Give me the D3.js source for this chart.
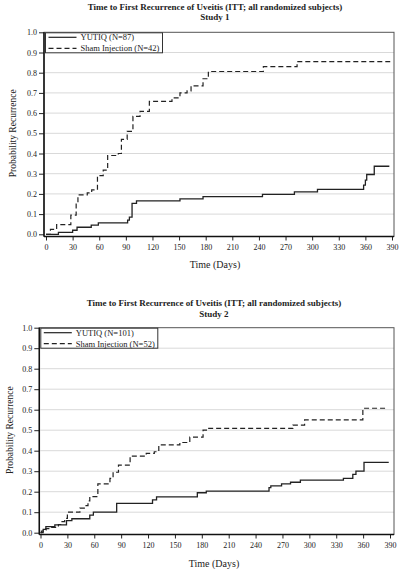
<!DOCTYPE html>
<html>
<head>
<meta charset="utf-8">
<script src="https://cdn.jsdelivr.net/npm/d3@7"></script>
<style>
  html, body { margin: 0; padding: 0; background: #fff; }
  svg { display: block; }
  text { font-family: "Liberation Serif", "Times New Roman", serif; fill: #222; }
</style>
</head>
<body>
<div id="chart"></div>
<script>
// step points [day, cumulative probability]
const study1Yutiq = [[0,0],[14,0.01],[30,0.02],[35,0.035],[51,0.045],[59,0.057],[92,0.07],[94,0.085],[97,0.153],[102,0.165],[151,0.175],[177,0.187],[244,0.198],[280,0.21],[306,0.222],[358,0.243],[360,0.268],[361.5,0.296],[370,0.337],[387,0.337]];
const study1Sham = [[0,0],[5,0.024],[12,0.048],[28,0.095],[34,0.15],[36,0.195],[46.5,0.205],[51.5,0.22],[58,0.29],[64.5,0.318],[69.5,0.39],[81.5,0.4],[85,0.47],[91.5,0.51],[98,0.584],[106,0.609],[116.5,0.658],[142,0.675],[151,0.7],[159,0.71],[163.5,0.735],[177,0.77],[183,0.806],[245,0.83],[283,0.855],[388,0.855]];
const study2Yutiq = [[0,0],[1,0.008],[3,0.016],[6,0.03],[16,0.038],[29,0.059],[35,0.068],[55,0.086],[59,0.1],[85,0.143],[125,0.16],[129.5,0.175],[175,0.195],[185,0.203],[255,0.22],[257,0.228],[269,0.238],[279,0.246],[290,0.256],[338,0.265],[348.5,0.285],[352,0.3],[361,0.343],[388.6,0.343]];
const study2Sham = [[0,0],[3,0.013],[6,0.02],[10,0.026],[20,0.04],[24,0.054],[27,0.07],[30,0.1],[44,0.12],[49.6,0.132],[53,0.155],[55,0.176],[64,0.238],[77.5,0.265],[81,0.295],[87,0.33],[100,0.374],[118,0.387],[127,0.395],[132,0.428],[155.5,0.44],[166.6,0.466],[181.4,0.5],[187,0.509],[281.7,0.525],[294.7,0.55],[359.7,0.607],[385.8,0.607]];

const xTicks = d3.range(0, 391, 30);
const yTicks = d3.range(0, 1.001, 0.1);
const titleText = 'Time to First Recurrence of Uveitis (ITT; all randomized subjects)';
const legend1 = ['YUTIQ (N=87)', 'Sham Injection (N=42)'];
const legend2 = ['YUTIQ (N=101)', 'Sham Injection (N=52)'];

const svg = d3.select('#chart').append('svg').attr('width', 400).attr('height', 569);

function drawPanel(p) {
  const g = svg.append('g');
  const x = d3.scaleLinear().domain([0, 390]).range([p.x0, p.x390]);
  const y = d3.scaleLinear().domain([0, 1]).range([p.y0, p.y1]);

  // titles
  g.append('text').attr('x', p.cx).attr('y', p.titleY).attr('text-anchor', 'middle')
    .attr('font-weight', 'bold').attr('font-size', 9).text(titleText);
  g.append('text').attr('x', p.cx).attr('y', p.titleY + p.titleGap).attr('text-anchor', 'middle')
    .attr('font-weight', 'bold').attr('font-size', 9).text(p.study);

  // grid
  g.append('g').selectAll('line').data(yTicks.filter(d => d > 0.05 && d < 0.95)).join('line')
    .attr('x1', p.left + 1).attr('x2', p.right).attr('y1', d => y(d)).attr('y2', d => y(d))
    .attr('stroke', '#d9d9d9').attr('stroke-width', 1);

  // frame
  g.append('rect').attr('x', p.left).attr('y', p.y1).attr('width', p.right - p.left).attr('height', p.bottom - p.y1)
    .attr('fill', 'none').attr('stroke', '#555').attr('stroke-width', 1);

  // axes
  const xa = g.append('g').attr('transform', `translate(0,${p.bottom})`)
    .call(d3.axisBottom(x).tickValues(xTicks).tickSize(4).tickSizeOuter(0).tickPadding(4));
  const ya = g.append('g').attr('transform', `translate(${p.left},0)`)
    .call(d3.axisLeft(y).tickValues(yTicks).tickFormat(d3.format('.1f')).tickSize(5).tickSizeOuter(0).tickPadding(2));
  [xa, ya].forEach(a => {
    a.select('.domain').remove();
    a.selectAll('line').attr('stroke', '#222');
    a.selectAll('text').attr('font-size', 8).attr('fill', '#333')
      .style('font-family', '"Liberation Serif", serif');
  });
  g.append('line').attr('x1', p.left).attr('x2', p.right).attr('y1', p.bottom).attr('y2', p.bottom)
    .attr('stroke', '#111').attr('stroke-width', 1.5);
  g.append('line').attr('x1', p.left).attr('x2', p.left).attr('y1', p.y1).attr('y2', p.bottom)
    .attr('stroke', '#111').attr('stroke-width', 1.5);

  // axis labels
  g.append('text').attr('x', p.cx).attr('y', p.xLabelY).attr('text-anchor', 'middle')
    .attr('font-size', 10).text('Time (Days)');
  g.append('text').attr('transform', `translate(${p.yLabelX},${(p.y0 + p.y1) / 2}) rotate(-90)`)
    .attr('text-anchor', 'middle').attr('font-size', 9.5).text('Probability Recurrence');

  // curves
  const line = d3.line().x(d => x(d[0])).y(d => y(d[1])).curve(d3.curveStepAfter);
  g.append('path').datum(p.sham).attr('d', line).attr('fill', 'none')
    .attr('stroke', '#222').attr('stroke-width', 1.2).attr('stroke-dasharray', '5,3');
  g.append('path').datum(p.yutiq).attr('d', line).attr('fill', 'none')
    .attr('stroke', '#222').attr('stroke-width', 1.3);

  // legend
  const lg = g.append('g').attr('transform', `translate(${p.left + 1.5},${p.y1 + 0.5})`);
  lg.append('rect').attr('width', p.legendW).attr('height', 20).attr('fill', '#fff')
    .attr('stroke', '#333').attr('stroke-width', 1);
  p.legend.forEach((t, i) => {
    const ly = 4.5 + i * 11;
    lg.append('line').attr('x1', 3).attr('x2', 31).attr('y1', ly).attr('y2', ly)
      .attr('stroke', '#222').attr('stroke-width', 1.2).attr('stroke-dasharray', i ? '5,3' : null);
    lg.append('text').attr('x', 35).attr('y', ly + 3).attr('font-size', 8.5).text(t);
  });
}

drawPanel({
  study: 'Study 1', yutiq: study1Yutiq, sham: study1Sham, legend: legend1, legendW: 117,
  x0: 46, x390: 392, y0: 234.3, y1: 32.3, left: 44, right: 394, bottom: 236.5,
  cx: 215, titleY: 9.5, titleGap: 10.5, xLabelY: 267.5, yLabelX: 16
});
drawPanel({
  study: 'Study 2', yutiq: study2Yutiq, sham: study2Sham, legend: legend2, legendW: 117,
  x0: 40.5, x390: 390, y0: 532.7, y1: 327.7, left: 39.3, right: 394, bottom: 534.5,
  cx: 214, titleY: 306, titleGap: 10.5, xLabelY: 566.5, yLabelX: 13
});
</script>
</body>
</html>
